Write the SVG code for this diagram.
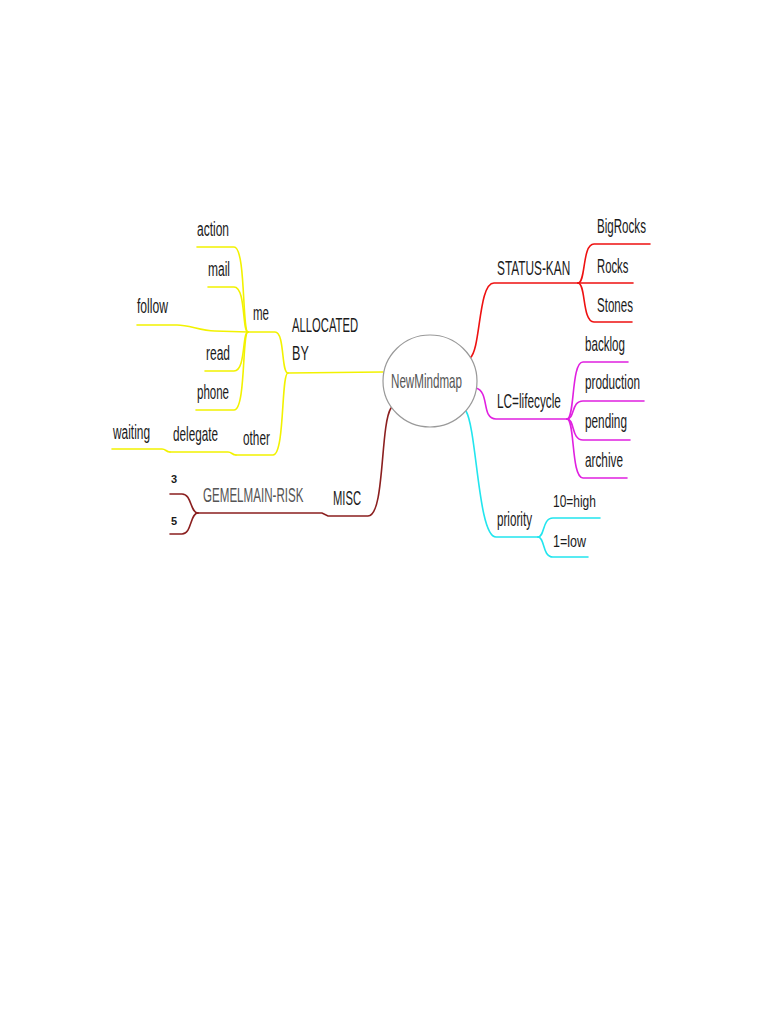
<svg xmlns="http://www.w3.org/2000/svg" width="768" height="1024" viewBox="0 0 768 1024">
<style>
text{font-family:"Liberation Sans",Arial,sans-serif;font-size:20px;fill:#1a1a1a}
.c{fill:none;stroke-width:1.6;stroke-linecap:round}
.y{stroke:#f2f200}
.r{stroke:#ee1111}
.m{stroke:#e020e0}
.cy{stroke:#22e5ee}
.b{stroke:#8b1f1f}
.g{fill:#555}
.f17{font-size:17px}
.s{font-size:11px;font-weight:bold}
</style>
<rect width="768" height="1024" fill="#ffffff"/>
<g id="connectors">
<path class="c y" d="M383,372 L288,373"/>
<path class="c y" d="M288,373 C281,373 285,332 275,332 L248,332"/>
<path class="c y" d="M288,373 C281,373 285,455 273,455 L236,455"/>
<path class="c y" d="M236,455 C232,455 232,452 228,452 L170,452"/>
<path class="c y" d="M170,452 C166,452 166,449 162,449 L112,449"/>
<path class="c y" d="M248,332 C242,332 246,247 234,247 L197,247"/>
<path class="c y" d="M248,332 C242,332 246,287 234,287 L208,287"/>
<path class="c y" d="M248,332 L215,331 C200,331 190,325 177,325 L137,325"/>
<path class="c y" d="M248,332 C242,332 246,371 234,371 L205,371"/>
<path class="c y" d="M248,332 C242,332 246,410 234,410 L196,410"/>
<path class="c r" d="M470,358 C481,350 478,283 494,283 L578,283"/>
<path class="c r" d="M578,283 C586,283 582,244 594,244 L650,244"/>
<path class="c r" d="M578,283 L633,283"/>
<path class="c r" d="M578,283 C586,283 582,322 594,322 L632,322"/>
<path class="c m" d="M476,388 C490,392 481,419 496,419 L567,419"/>
<path class="c m" d="M567,419 C575,419 571,362 583,362 L628,362"/>
<path class="c m" d="M567,419 C575,419 571,401 583,401 L644,401"/>
<path class="c m" d="M567,419 C575,419 571,440 583,440 L630,440"/>
<path class="c m" d="M567,419 C575,419 571,478 583,478 L627,478"/>
<path class="c cy" d="M466,411 C477,430 478,537 496,537 L538,537"/>
<path class="c cy" d="M538,537 C545,537 542,518 553,518 L600,518"/>
<path class="c cy" d="M538,537 C545,537 542,557 553,557 L588,557"/>
<path class="c b" d="M391,408 C380,425 385,516 368,516 L328,516 L322,513 L198,513"/>
<path class="c b" d="M198,513 C190,513 192,494 182,494 L170,494"/>
<path class="c b" d="M198,513 C190,513 192,534 182,534 L170,534"/>
</g>
<g id="root">
<ellipse cx="430" cy="381" rx="47" ry="46" fill="#ffffff" stroke="#999" stroke-width="1.2"/>
<text class="g" transform="translate(391,388) scale(0.581,1)">NewMindmap</text>
</g>
<g id="allocated-by"><text transform="translate(292,332) scale(0.563,1)">ALLOCATED</text><text transform="translate(292,360) scale(0.63,1)">BY</text></g>
<g id="me"><text transform="translate(253,320) scale(0.576,1)">me</text></g>
<g id="action"><text transform="translate(197,236) scale(0.6,1)">action</text></g>
<g id="mail"><text transform="translate(208,276) scale(0.6,1)">mail</text></g>
<g id="follow"><text transform="translate(137,313) scale(0.607,1)">follow</text></g>
<g id="read"><text transform="translate(206,360) scale(0.6,1)">read</text></g>
<g id="phone"><text transform="translate(197,399) scale(0.576,1)">phone</text></g>
<g id="other"><text transform="translate(243,445) scale(0.59,1)">other</text></g>
<g id="delegate"><text transform="translate(173,441) scale(0.587,1)">delegate</text></g>
<g id="waiting"><text transform="translate(113,439) scale(0.595,1)">waiting</text></g>
<g id="status-kan"><text transform="translate(497,275) scale(0.592,1)">STATUS-KAN</text></g>
<g id="bigrocks"><text transform="translate(597,233) scale(0.58,1)">BigRocks</text></g>
<g id="rocks"><text transform="translate(597,273) scale(0.565,1)">Rocks</text></g>
<g id="stones"><text transform="translate(597,312) scale(0.578,1)">Stones</text></g>
<g id="lc"><text transform="translate(497,408) scale(0.59,1)">LC=lifecycle</text></g>
<g id="backlog"><text transform="translate(585,351) scale(0.58,1)">backlog</text></g>
<g id="production"><text transform="translate(585,389) scale(0.589,1)">production</text></g>
<g id="pending"><text transform="translate(585,428) scale(0.59,1)">pending</text></g>
<g id="archive"><text transform="translate(585,467) scale(0.589,1)">archive</text></g>
<g id="priority"><text transform="translate(497,526) scale(0.583,1)">priority</text></g>
<g id="high"><text class="f17" transform="translate(553,507) scale(0.705,1)">10=high</text></g>
<g id="low"><text class="f17" transform="translate(553,547) scale(0.735,1)">1=low</text></g>
<g id="misc"><text transform="translate(333,505) scale(0.56,1)">MISC</text></g>
<g id="gemelmain-risk"><text class="g" transform="translate(203,502) scale(0.58,1)">GEMELMAIN-RISK</text></g>
<g id="n3"><text class="s" x="171" y="483">3</text></g>
<g id="n5"><text class="s" x="171" y="525">5</text></g>
</svg>
